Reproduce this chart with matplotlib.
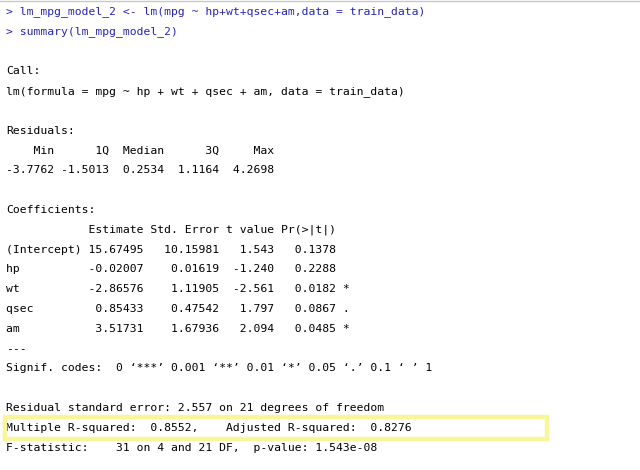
import matplotlib
matplotlib.use("Agg")
import matplotlib.pyplot as plt
from matplotlib.patches import Rectangle

# console input
commands = ["lm_mpg_model_2 <- lm(mpg ~ hp+wt+qsec+am,data = train_data)",
            "summary(lm_mpg_model_2)"]
call_text = "lm(formula = mpg ~ hp + wt + qsec + am, data = train_data)"

# residual quantiles
resid_names = ["Min", "1Q", "Median", "3Q", "Max"]
resid_values = [-3.7762, -1.5013, 0.2534, 1.1164, 4.2698]

# coefficient table
coef_names = ["(Intercept)", "hp", "wt", "qsec", "am"]
estimates = [15.67495, -0.02007, -2.86576, 0.85433, 3.51731]
std_errors = [10.15981, 0.01619, 1.11905, 0.47542, 1.67936]
t_values = [1.543, -1.240, -2.561, 1.797, 2.094]
p_values = [0.1378, 0.2288, 0.0182, 0.0867, 0.0485]
signif = ["", "", "*", ".", "*"]

# model fit
rse, rse_df = 2.557, 21
r2, adj_r2 = 0.8552, 0.8276
f_stat, f_df1, f_df2, f_p = 31, 4, 21, "1.543e-08"

# build the printed lines: (text, is_command)
lines = [("> " + c, True) for c in commands]
lines += [("", False), ("Call:", False), (call_text, False), ("", False),
          ("Residuals:", False)]
lines.append((" ".join(f"{n:>7}" for n in resid_names), False))
lines.append((" ".join(f"{v:7.4f}" for v in resid_values), False))
lines += [("", False), ("Coefficients:", False)]
lines.append((f"{'':11} {'Estimate':>8} {'Std. Error':>10} {'t value':>7} {'Pr(>|t|)':>8}", False))
for i in range(len(coef_names)):
    row = (f"{coef_names[i]:<11} {estimates[i]:8.5f} {std_errors[i]:10.5f} "
           f"{t_values[i]:7.3f} {p_values[i]:8.4f} {signif[i]}")
    lines.append((row, False))
lines.append(("---", False))
lines.append(("Signif. codes:  0 \u2018***\u2019 0.001 \u2018**\u2019 0.01 \u2018*\u2019 0.05 \u2018.\u2019 0.1 \u2018 \u2019 1", False))
lines.append(("", False))
lines.append((f"Residual standard error: {rse} on {rse_df} degrees of freedom", False))
lines.append((f"Multiple R-squared:  {r2},    Adjusted R-squared:  {adj_r2}", False))
lines.append((f"F-statistic:    {f_stat} on {f_df1} and {f_df2} DF,  p-value: {f_p}", False))

fig = plt.figure(figsize=(6.4, 4.7), dpi=100)
ax = fig.add_axes([0, 0, 1, 1])
ax.set_xlim(0, 640)
ax.set_ylim(470, 0)
ax.axis("off")

# thin gray border along the top
ax.plot([0, 640], [0.5, 0.5], color="#c8c8c8", lw=1)

y0, step = 12, 19.8
for i, (txt, is_cmd) in enumerate(lines):
    ax.text(6, y0 + step * i, txt, family="DejaVu Sans Mono", fontsize=8.22,
            color="#2323c8" if is_cmd else "#000000", va="center", ha="left")

# yellow highlight around the R-squared line
ax.add_patch(Rectangle((5, 417), 542, 22, fill=False, edgecolor="#f8f59a",
                       lw=3.2, zorder=5))

fig.savefig("out.png", dpi=100, facecolor="white")
